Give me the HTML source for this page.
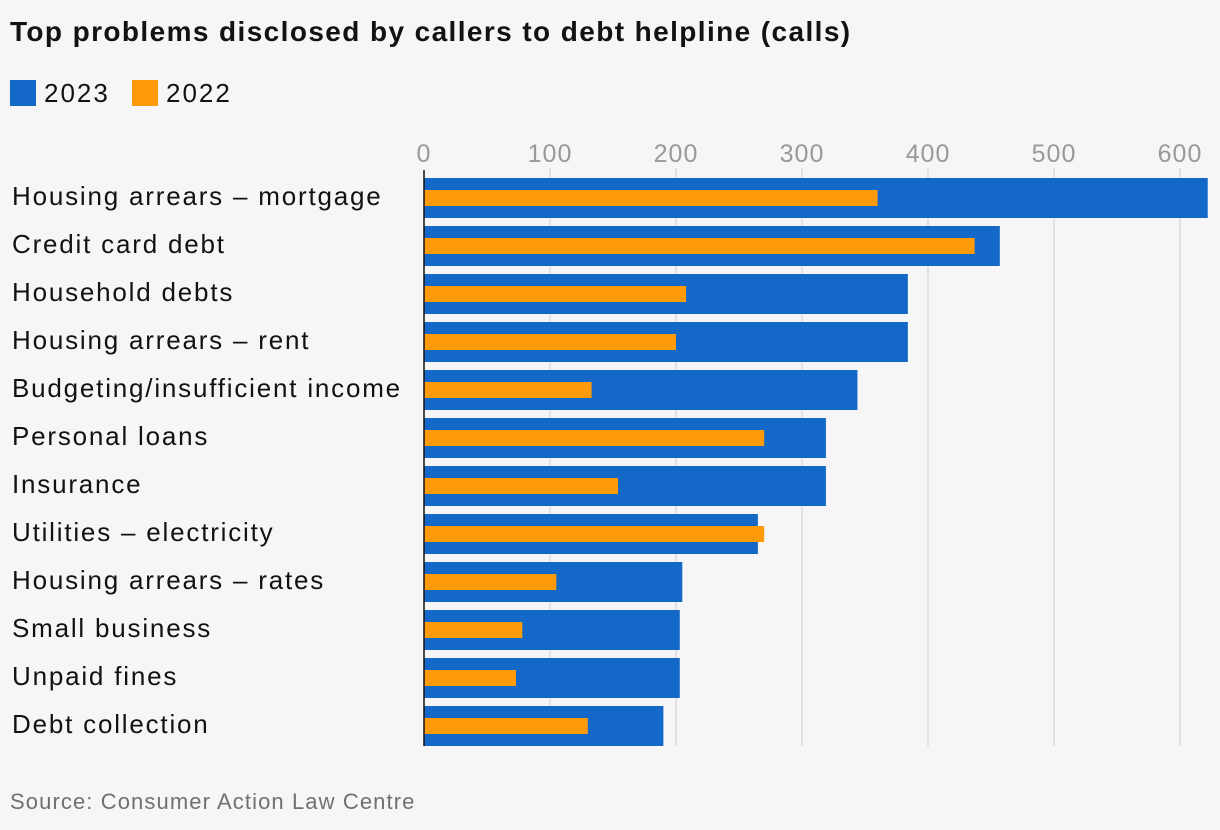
<!DOCTYPE html>
<html><head><meta charset="utf-8">
<style>
body{margin:0;background:#f6f6f6;font-family:"Liberation Sans",sans-serif;}
#wrap{position:relative;width:1220px;height:830px;overflow:hidden;}
svg text{font-family:"Liberation Sans",sans-serif;}
</style></head>
<body><div id="wrap">
<svg id="chart" width="1220" height="830">
<text x="10" y="41" font-size="28" font-weight="bold" letter-spacing="1.4" fill="#121212">Top problems disclosed by callers to debt helpline (calls)</text>
<g>
<rect x="10" y="80" width="26" height="26" fill="#1468c7"/>
<text x="44" y="102" font-size="26" letter-spacing="2" fill="#121212">2023</text>
<rect x="132" y="80" width="26" height="26" fill="#ff9b0b"/>
<text x="166" y="102" font-size="26" letter-spacing="2" fill="#121212">2022</text>
</g>
<g id="grid"></g><g id="bars"></g><g id="labels"></g>
<line x1="424" y1="170" x2="424" y2="746" stroke="#121212" stroke-width="1.5"/>
<text x="10" y="809" font-size="22" letter-spacing="1.1" fill="#707070">Source: Consumer Action Law Centre</text>
</svg>
<script>
const categories=["Housing arrears – mortgage","Credit card debt","Household debts","Housing arrears – rent","Budgeting/insufficient income","Personal loans","Insurance","Utilities – electricity","Housing arrears – rates","Small business","Unpaid fines","Debt collection"];
const values2023=[622,457,384,384,344,319,319,265,205,203,203,190];
const values2022=[360,437,208,200,133,270,154,270,105,78,73,130];
const ticks=[0,100,200,300,400,500,600];
const NS="http://www.w3.org/2000/svg";
const x=v=>424+v*1.26;
const rowY=i=>178+i*48;
function mk(tag,attrs,parent){const e=document.createElementNS(NS,tag);for(const k in attrs)e.setAttribute(k,attrs[k]);parent.appendChild(e);return e;}
const grid=document.getElementById('grid'),bars=document.getElementById('bars'),labels=document.getElementById('labels');
ticks.forEach(t=>{
 if(t>0){const l=mk('line',{x1:x(t),x2:x(t),y1:168,y2:746,stroke:'#dcdcdc','stroke-width':1.5},grid);
 
 }
 const tx=mk('text',{x:x(t),y:162,'font-size':25,'letter-spacing':1,fill:'#999','text-anchor':'middle'},grid);tx.textContent=t;
 
 
});
categories.forEach((c,i)=>{
 const y=rowY(i);
 const b=mk('rect',{x:424,y:y,width:x(values2023[i])-424,height:40,fill:'#1468c7'},bars);
 
 
 const o=mk('rect',{x:424,y:y+12,width:x(values2022[i])-424,height:16,fill:'#ff9b0b'},bars);
 
 
 const t=mk('text',{x:12,y:y+27,'font-size':26,'letter-spacing':1.8,fill:'#121212'},labels);t.textContent=c;
 
 
});
</script>
</div></body></html>
